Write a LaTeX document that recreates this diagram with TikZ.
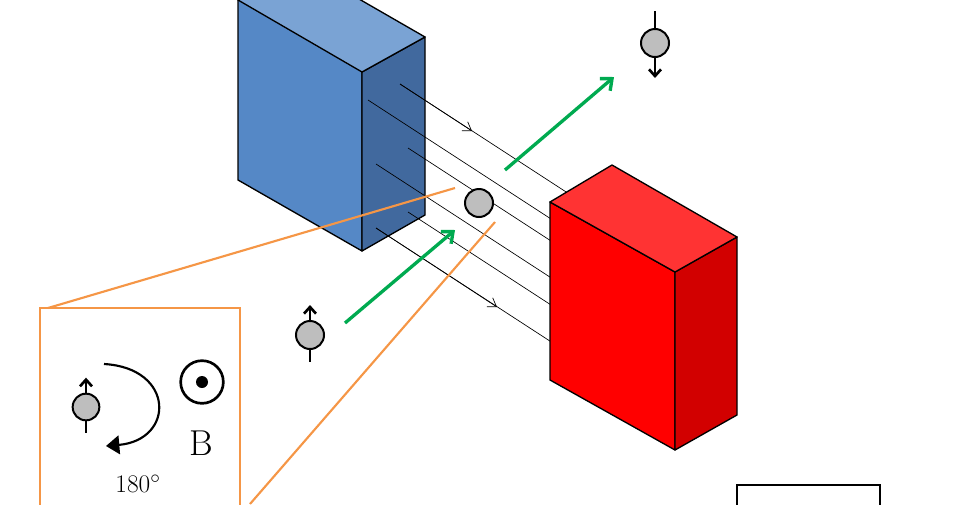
\documentclass[tikz,border=0pt]{standalone}
\usetikzlibrary{arrows.meta}
\begin{document}
\begin{tikzpicture}[x=0.75pt,y=-0.75pt,
 edge/.style={draw=black,line width=1pt,line join=round},
 fline/.style={draw=black,line width=0.5pt},
 green/.style={draw={rgb,255:red,0;green,170;blue,80},line width=2.5pt,-{Straight Barb[length=7pt,width=12pt]}},
 orng/.style={draw={rgb,255:red,245;green,150;blue,70},line width=1.6pt},
 ball/.style={circle,draw=black,line width=1.5pt,fill={rgb,255:red,190;green,190;blue,190},minimum size=21pt,inner sep=0pt},
 spinarr/.style={line width=2pt,-{Straight Barb[length=5pt,width=9pt]}}]
\useasboundingbox (0,0) rectangle (960,504);
% blue box
\fill[edge,fill={rgb,255:red,85;green,136;blue,198}] (238,-40) -- (238,180) -- (362,251) -- (362,72) -- cycle;
\fill[edge,fill={rgb,255:red,65;green,105;blue,158}] (362,72) -- (425,37) -- (425,215) -- (362,251) -- cycle;
\fill[edge,fill={rgb,255:red,122;green,163;blue,212}] (238,0) -- (300,-35) -- (425,37) -- (362,72) -- cycle;
% field lines
\foreach \x/\y [count=\i] in {400/84,368/100,408/148,376/164,408/212,376/228}
  \draw[fline] (\x,\y) -- ++(200,130) coordinate (f\i);
\draw[fline,-{Straight Barb[length=6pt,width=8pt]}] (400,84) -- (472,131);
\draw[fline,-{Straight Barb[length=6pt,width=8pt]}] (376,228) -- (497,307);
% red box
\fill[edge,fill={rgb,255:red,255;green,0;blue,0}] (550,202) -- (550,380) -- (675,450) -- (675,272) -- cycle;
\fill[edge,fill={rgb,255:red,210;green,0;blue,0}] (675,272) -- (737,237) -- (737,415) -- (675,450) -- cycle;
\fill[edge,fill={rgb,255:red,255;green,51;blue,51}] (550,202) -- (612,165) -- (737,237) -- (675,272) -- cycle;
% particles
\node[ball] (c) at (479,203) {};
\coordinate (g1a) at (345,323); \coordinate (g1b) at (455,230);
\coordinate (g2a) at (505,170); \coordinate (g2b) at (614,77);
\draw[green] (g1a) -- (g1b);
\draw[green] (g2a) -- (g2b);
\node[ball] (p1) at (310,335) {};
\draw[line width=2pt] (p1.south) -- ++(0,12);
\draw[spinarr] (p1.north) -- ++(0,-15);
\node[ball] (p2) at (655,43) {};
\draw[line width=2pt] (p2.north) -- ++(0,-17);
\draw[spinarr] (p2.south) -- ++(0,20);
% inset
\coordinate (o1) at (455,188); \coordinate (o2) at (495,222);
\draw[orng] (o1) -- (48,308);
\draw[orng] (o2) -- (250,504);
\draw[orng] (40,520) -- (40,308) -- (240,308) -- (240,520);
\node[ball,minimum size=20pt] (p3) at (86,407) {};
\draw[line width=2pt] (p3.south) -- ++(0,12);
\draw[spinarr] (p3.north) -- ++(0,-15);
\draw[line width=1.6pt,-{Triangle[length=10pt,width=14pt]}] (104,364) .. controls (175,368) and (175,440) .. (106,446);
\node[circle,draw,line width=2pt,minimum size=32pt] (bc) at (202,382) {};
\fill (bc) circle (4.5pt);
\node[font=\fontsize{27}{30}\selectfont] (B) at (201,443) {B};
\node[font=\fontsize{19}{22}\selectfont] (deg) at (138,484) {180$^\circ$};
% bottom-right box
\draw[line width=1.5pt] (737,520) -- (737,485) -- (880,485) -- (880,520);
\end{tikzpicture}
\end{document}
